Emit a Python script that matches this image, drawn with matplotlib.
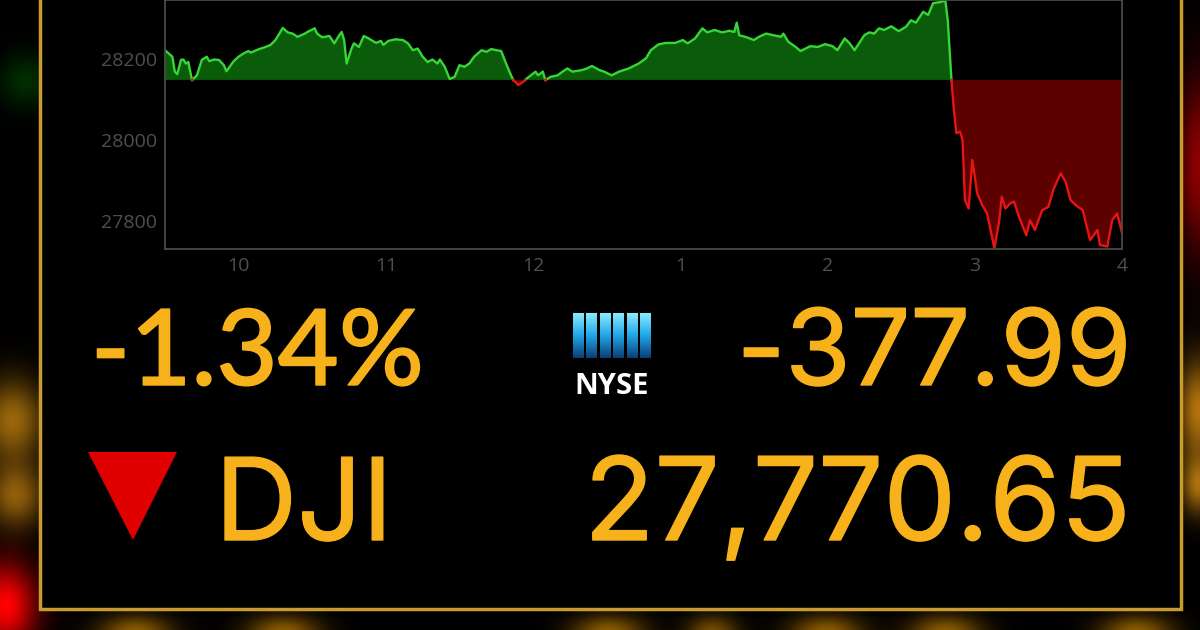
import numpy as np
import matplotlib

matplotlib.use("Agg")
import matplotlib.pyplot as plt
import matplotlib.patheffects as pe
from matplotlib.colors import LinearSegmentedColormap
from matplotlib.patches import Polygon

# intraday DJI, minutes after 9:30 open
minutes = [
    0, 3, 4, 5, 6.5, 7.5, 8.5, 9.5, 11, 13, 15, 17, 18, 20, 22, 24, 25, 28, 30, 32,
    34, 35, 38, 41, 43, 45, 48, 50, 52, 54, 57, 58, 61, 62, 64, 67, 69, 71, 72, 73,
    74, 76, 77, 79, 81, 83, 86, 88, 89, 91, 94, 97, 99, 101, 103, 105, 107, 109, 111, 112,
    114, 116, 118, 120, 122, 124, 126, 129, 131, 133, 135, 137, 139, 141, 142, 144, 146, 147, 151, 152,
    154, 155, 157, 160, 162, 164, 166, 170, 172, 174, 177, 179, 182, 185, 189, 193, 196, 198, 201, 204,
    208, 211, 213, 216, 219, 221, 224, 227, 230, 232, 233, 234, 237, 240, 242, 245, 248, 251, 252, 254,
    257, 259, 261, 263, 266, 269, 272, 274, 277, 279, 281, 285, 287, 289, 291, 293, 296, 299, 302, 304,
    306, 309, 311, 313, 316, 318, 319, 320.5, 321.5, 322.5, 324, 325, 326, 327.5, 329, 331, 333, 335, 338, 340,
    341, 342.5, 344.5, 346, 348, 351, 352.5, 354.5, 357.5, 360, 362, 365, 367, 369, 371, 374, 377, 380, 381, 384,
    386, 388, 390,
]
values = [
    28222, 28206, 28169, 28163, 28198, 28199, 28189, 28193, 28148, 28160, 28198, 28206, 28195, 28199, 28198, 28185, 28170, 28195, 28206, 28214,
    28220, 28216, 28224, 28230, 28235, 28247, 28277, 28266, 28263, 28255, 28263, 28267, 28276, 28263, 28254, 28257, 28239, 28259, 28267, 28247,
    28189, 28226, 28239, 28230, 28257, 28251, 28240, 28245, 28235, 28245, 28249, 28247, 28239, 28222, 28226, 28206, 28193, 28199, 28189, 28199,
    28181, 28151, 28156, 28185, 28181, 28189, 28206, 28222, 28218, 28225, 28222, 28220, 28189, 28160, 28148, 28136, 28144, 28150, 28169, 28160,
    28169, 28148, 28156, 28160, 28169, 28177, 28169, 28173, 28177, 28183, 28173, 28169, 28160, 28169, 28177, 28189, 28202, 28222, 28236, 28240,
    28240, 28247, 28239, 28251, 28276, 28266, 28272, 28266, 28270, 28267, 28290, 28259, 28254, 28247, 28255, 28263, 28259, 28255, 28263, 28243,
    28230, 28220, 28226, 28232, 28230, 28237, 28232, 28222, 28251, 28239, 28222, 28259, 28266, 28263, 28276, 28272, 28281, 28269, 28280, 28296,
    28290, 28317, 28309, 28338, 28341, 28345, 28296, 28148, 28074, 28017, 28021, 28000, 27852, 27831, 27951, 27868, 27840, 27819, 27733, 27802,
    27860, 27831, 27844, 27848, 27811, 27765, 27802, 27778, 27827, 27835, 27877, 27918, 27897, 27852, 27840, 27827, 27753, 27778, 27741, 27737,
    27802, 27819, 27771,
]
prev_close = 28148.64

hour_ticks = [30, 90, 150, 210, 270, 330, 390]
hour_labels = ["10", "11", "12", "1", "2", "3", "4"]
price_ticks = [27800, 28000, 28200]

pct_change = "-1.34%"
pt_change = "-377.99"
symbol = "DJI"
last_price = "27,770.65"

GOLD = "#f7b21b"
W, H = 1200, 630


def split_at_base(x, y, base):
    # insert crossing points so the up/down segments meet on the base line
    xs, ys = [x[0]], [y[0]]
    for i in range(1, len(x)):
        if (y[i - 1] - base) * (y[i] - base) < 0:
            t = (base - y[i - 1]) / (y[i] - y[i - 1])
            xs.append(x[i - 1] + t * (x[i] - x[i - 1]))
            ys.append(base)
        xs.append(x[i])
        ys.append(y[i])
    return np.array(xs), np.array(ys)


fig = plt.figure(figsize=(W / 100, H / 100), dpi=100, facecolor="black")

# out-of-focus lights behind the frame
bg = fig.add_axes([0, 0, 1, 1], zorder=0)
yy, xx = np.mgrid[0:H, 0:W]
blobs = [
    (25, 80, 18, 18, (0.0, 0.18, 0.0)),
    (12, 420, 22, 28, (0.6, 0.4, 0.04)),
    (15, 495, 20, 22, (0.55, 0.36, 0.04)),
    (5, 605, 22, 30, (1.0, 0.0, 0.0)),
    (135, 632, 25, 12, (0.55, 0.36, 0.0)),
    (283, 632, 25, 12, (0.55, 0.36, 0.0)),
    (608, 632, 25, 12, (0.55, 0.36, 0.0)),
    (712, 632, 18, 12, (0.45, 0.3, 0.0)),
    (826, 632, 25, 12, (0.55, 0.36, 0.0)),
    (945, 632, 25, 12, (0.55, 0.36, 0.0)),
    (1136, 632, 25, 12, (0.55, 0.36, 0.0)),
    (1198, 165, 14, 60, (0.55, 0.0, 0.0)),
    (1198, 410, 14, 35, (0.7, 0.45, 0.05)),
    (1198, 485, 12, 20, (0.6, 0.4, 0.05)),
]
img = np.zeros((H, W, 3))
for cx, cy, sx, sy, col in blobs:
    g = np.exp(-(((xx - cx) / sx) ** 2 + ((yy - cy) / sy) ** 2) / 2)
    img += g[..., None] * np.array(col)
img[(xx > 41) & (xx < 1180) & (yy < 608)] = 0
bg.imshow(np.clip(img, 0, 1), extent=(0, W, H, 0), aspect="auto")
bg.set_xlim(0, W)
bg.set_ylim(H, 0)
bg.axis("off")

# price chart
ax = fig.add_axes([165 / W, 1 - 249 / H, (1122 - 165) / W, 249 / H], zorder=1)
ax.set_facecolor("black")
x, y = split_at_base(np.array(minutes, float), np.array(values, float), prev_close)
ax.fill_between(x, y, prev_close, where=y >= prev_close, interpolate=True, color="#0a5c0a", lw=0)
ax.fill_between(x, y, prev_close, where=y <= prev_close, interpolate=True, color="#5c0000", lw=0)
ax.plot(x, np.where(y >= prev_close, y, np.nan), color="#35d635", lw=1.7)
ax.plot(x, np.where(y <= prev_close, y, np.nan), color="#e81414", lw=1.7)
ax.set_xlim(0, 390)
ax.set_ylim(27731, 28346)
ax.set_xticks(hour_ticks)
ax.set_xticklabels(hour_labels)
ax.set_yticks(price_ticks)
ax.tick_params(length=0, colors="#4f4f4f", labelsize=14, pad=6)
for lbl in ax.get_xticklabels() + ax.get_yticklabels():
    lbl.set_family("Open Sans")
for sp in ax.spines.values():
    sp.set_color("#4a4a4a")
    sp.set_linewidth(1.3)

# overlay in pixel coordinates
ov = fig.add_axes([0, 0, 1, 1], zorder=3)
ov.patch.set_alpha(0)

ov.plot([40, 40, 1181, 1181], [-5, 609, 609, -5], color="#c99a2e", lw=2.5, solid_joinstyle="miter")

# thicken the big figures slightly, the broadcast font is a bit heavier
heavy = [pe.withStroke(linewidth=1.0, foreground=GOLD)]
ov.text(91, 385, pct_change, fontsize=76, family="Lato", fontweight="medium",
        color=GOLD, ha="left", va="baseline", path_effects=heavy)
ov.text(1131, 385, pt_change, fontsize=76, family="Inter",
        color=GOLD, ha="right", va="baseline", path_effects=heavy)
ov.text(215, 540, symbol, fontsize=82, family="Inter",
        color=GOLD, ha="left", va="baseline", path_effects=heavy)
ov.text(1131, 540, last_price, fontsize=83, family="Inter",
        color=GOLD, ha="right", va="baseline", path_effects=heavy)

ov.add_patch(Polygon([(88, 452), (177, 452), (133, 540)], closed=True, color="#e00000", lw=0))

# NYSE logo
logo_cmap = LinearSegmentedColormap.from_list("nyse", ["#8aeaff", "#1ea6e6", "#0b3f78"])
grad = np.linspace(0, 1, 60)[:, None]
for bx in [572.5, 586, 599.5, 613, 626.5, 640]:
    ov.imshow(grad, extent=(bx, bx + 10.5, 358, 313), cmap=logo_cmap, aspect="auto",
              interpolation="bilinear", zorder=2)
ov.text(611.5, 394, "NYSE", fontsize=21, fontweight="bold", family="Open Sans",
        color="white", ha="center", va="baseline")

ov.set_xlim(0, W)
ov.set_ylim(H, 0)
ov.axis("off")

fig.savefig("out.png", dpi=100, facecolor="black")
plt.close(fig)
